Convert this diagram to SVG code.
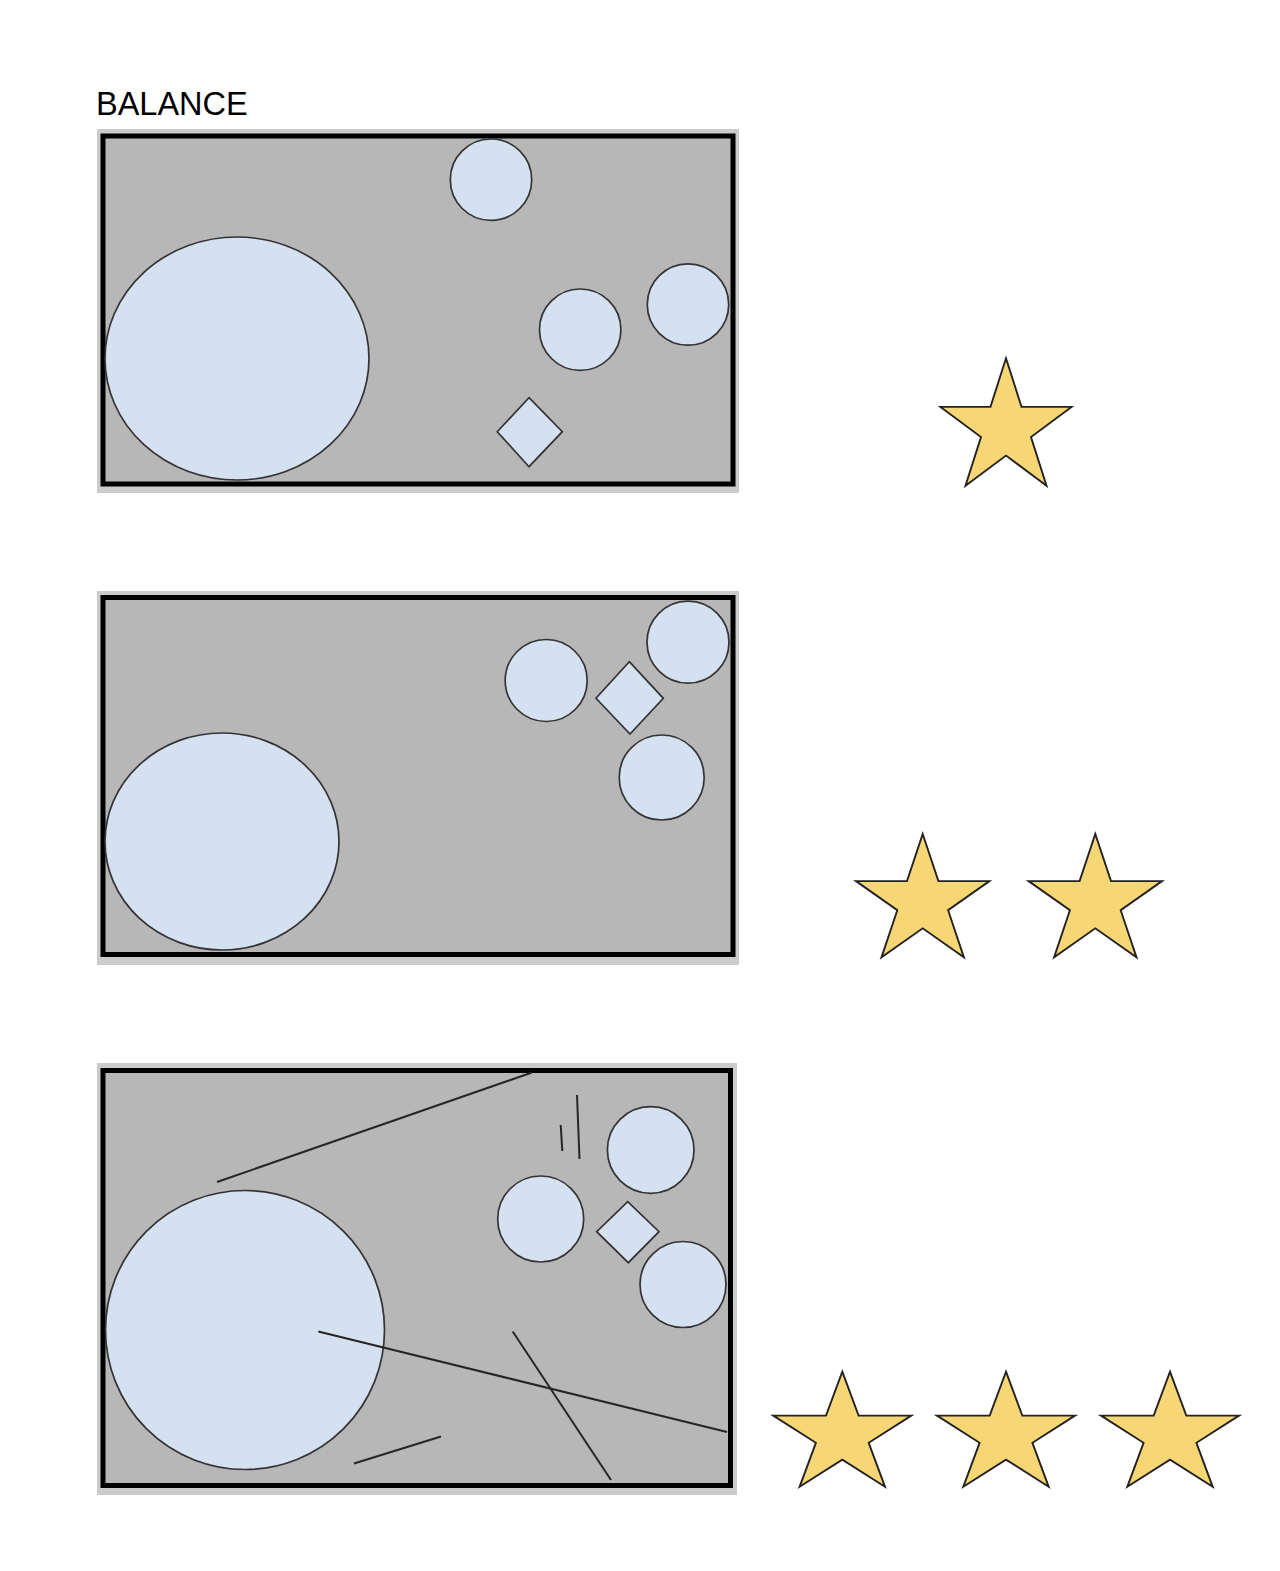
<svg xmlns="http://www.w3.org/2000/svg" width="1280" height="1571" viewBox="0 0 1280 1571">
  <style>
    .band { fill: #cbcbcb; }
    .frame { fill: #b7b7b7; stroke: #000; stroke-width: 5; }
    .shape { fill: #d5e1f0; stroke: #333; stroke-width: 1.7; }
    .star { fill: #f7d775; stroke: #222; stroke-width: 1.9; stroke-linejoin: miter; }
    .line { stroke: #262626; stroke-width: 2; fill: none; }
    .title { font-family: "Liberation Sans", Arial, sans-serif; font-size: 32.5px; fill: #000; }
  </style>
  <rect width="1280" height="1571" fill="#fff"/>
  <text class="title" x="96" y="115">BALANCE</text>

  <g id="panel1">
    <rect class="band" x="97" y="129" width="642" height="364"/>
    <rect class="frame" x="103" y="136" width="630" height="348"/>
    <ellipse class="shape" cx="237" cy="358.5" rx="132" ry="121.5"/>
    <circle class="shape" cx="491" cy="179.7" r="40.7"/>
    <circle class="shape" cx="580.2" cy="329.7" r="40.7"/>
    <circle class="shape" cx="688" cy="304.5" r="40.7"/>
    <polygon class="shape" points="529,397.7 562.3,431.7 529,466.7 497.3,431.7"/>
  </g>

  <g id="panel2">
    <rect class="band" x="97" y="591" width="642" height="374"/>
    <rect class="frame" x="103" y="597.5" width="630" height="357"/>
    <ellipse class="shape" cx="222" cy="841.5" rx="117" ry="108.5"/>
    <circle class="shape" cx="546.2" cy="680.5" r="41"/>
    <circle class="shape" cx="688" cy="642.2" r="41"/>
    <polygon class="shape" points="629.3,661.7 663.3,698.3 630,734 596,698.3"/>
    <circle class="shape" cx="661.7" cy="777.5" r="42.5"/>
  </g>

  <g id="panel3">
    <rect class="band" x="97" y="1063" width="640" height="432"/>
    <rect class="frame" x="103" y="1070.5" width="627.5" height="415"/>
    <circle class="shape" cx="245" cy="1330" r="139.5"/>
    <circle class="shape" cx="650.7" cy="1150" r="43.3"/>
    <circle class="shape" cx="540.7" cy="1219" r="43"/>
    <polygon class="shape" points="627.7,1201.7 659,1231.7 628.3,1262.7 596.7,1231.7"/>
    <circle class="shape" cx="683" cy="1284.5" r="43"/>
    <g id="panel3-lines">
      <line class="line" x1="217" y1="1182" x2="532" y2="1072.5"/>
      <line class="line" x1="318.3" y1="1331.5" x2="727" y2="1432"/>
      <line class="line" x1="512.7" y1="1331.5" x2="611" y2="1480"/>
      <line class="line" x1="354" y1="1463.5" x2="441" y2="1436.5"/>
      <line class="line" x1="560.7" y1="1125" x2="562.3" y2="1151"/>
      <line class="line" x1="577" y1="1095" x2="579.5" y2="1159"/>
    </g>
  </g>

  <g id="stars-row1">
    <polygon class="star" points="1006,358.3 1021.5,406.9 1071.5,406.9 1031,437 1046.5,485.7 1006,455.6 965.5,485.7 981,437 940.5,406.9 990.5,406.9"/>
  </g>
  <g id="stars-row2">
    <polygon class="star" points="922.7,834 938.4,881.1 989.4,881.1 948.1,910.2 963.9,957.4 922.7,928.3 881.5,957.4 897.3,910.2 856,881.1 907,881.1"/>
    <polygon class="star" points="1095.3,834 1111,881.1 1162,881.1 1120.7,910.2 1136.5,957.4 1095.3,928.3 1054.1,957.4 1069.9,910.2 1028.6,881.1 1079.6,881.1"/>
  </g>
  <g id="stars-row3">
    <polygon class="star" points="842.3,1371.7 858.6,1415.6 911.3,1415.6 868.7,1442.8 885,1486.8 842.3,1459.6 799.6,1486.8 815.9,1442.8 773.3,1415.6 826,1415.6"/>
    <polygon class="star" points="1006,1371.7 1022.3,1415.6 1075,1415.6 1032.4,1442.8 1048.7,1486.8 1006,1459.6 963.3,1486.8 979.6,1442.8 937,1415.6 989.7,1415.6"/>
    <polygon class="star" points="1170,1371.7 1186.3,1415.6 1239,1415.6 1196.4,1442.8 1212.7,1486.8 1170,1459.6 1127.3,1486.8 1143.6,1442.8 1101,1415.6 1153.7,1415.6"/>
  </g>
</svg>
